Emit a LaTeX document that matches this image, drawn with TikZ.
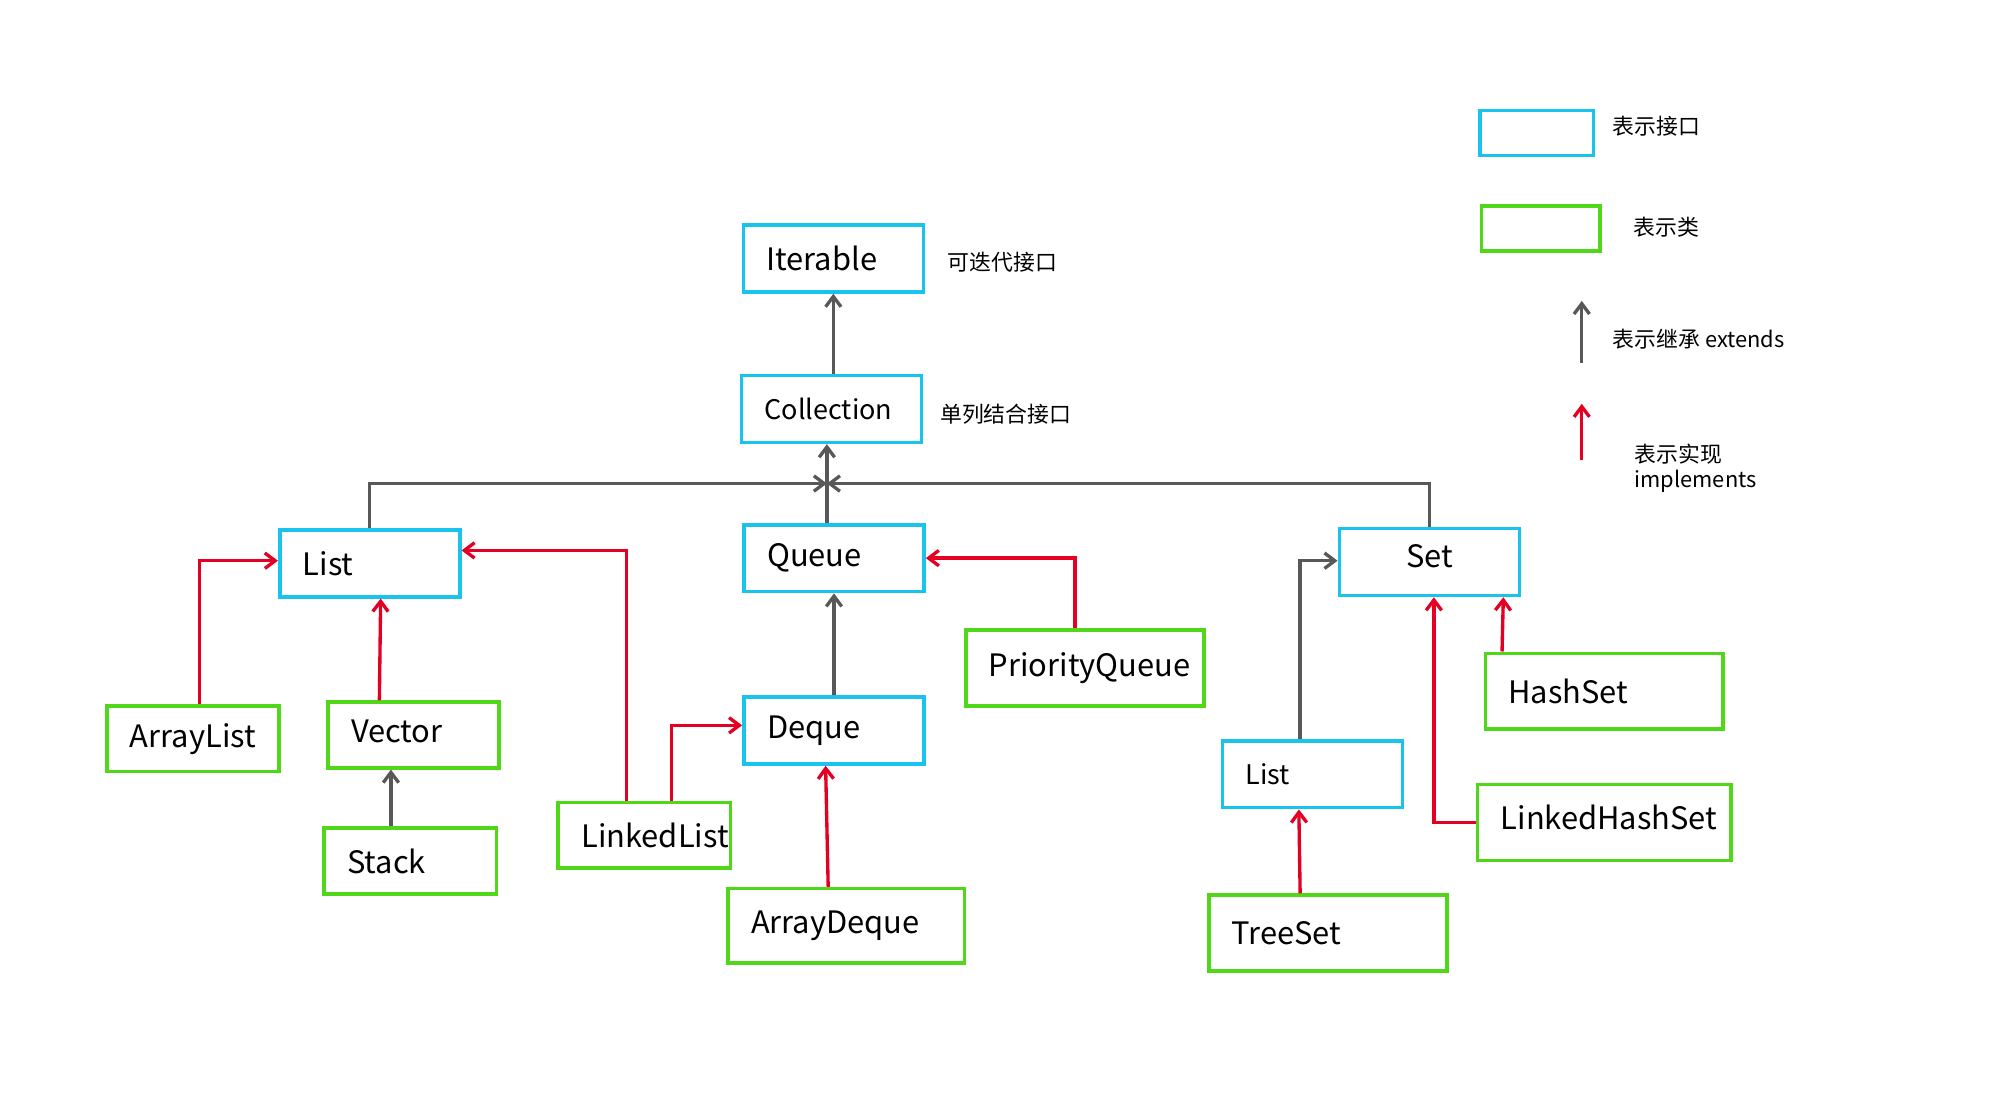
\documentclass[tikz,border=0pt]{standalone}
\usepackage{fontspec}
\setmainfont{Noto Sans CJK SC}
\usetikzlibrary{arrows.meta,calc}
\definecolor{ifcyan}{RGB}{25,195,238}
\definecolor{clgreen}{RGB}{80,215,25}
\definecolor{imred}{RGB}{228,0,35}
\definecolor{exgray}{RGB}{88,88,88}
\begin{document}
\begin{tikzpicture}[x=0.5pt,y=-0.5pt,
	box/.style={draw, line width=1.4pt, inner xsep=9pt, inner ysep=0pt, align=left, font=\fontsize{12}{14}\selectfont},
	iface/.style={box, draw=ifcyan},
	cls/.style={box, draw=clgreen},
	ext/.style={exgray, line width=1.3pt, -{Straight Barb[length=4pt,width=6pt]}},
	impl/.style={imred, line width=1.3pt, -{Straight Barb[length=4pt,width=6pt]}},
	note/.style={anchor=west, font=\fontsize{8.5}{10}\selectfont}]
\useasboundingbox (0,0) rectangle (1563,864);
% interfaces
\node[iface, text width=52pt, minimum height=26pt] (iter) at (648,201) {Iterable};
\node[iface, text width=52pt, minimum height=26pt] (coll) at (646.5,318) {\fontsize{10.5}{12}\selectfont Collection};
\node[iface, text width=52pt, minimum height=26pt] (list) at (287.5,438) {List};
\node[iface, text width=52pt, minimum height=26pt] (queue) at (648.5,434) {Queue};
\node[iface, text width=52pt, minimum height=26pt, align=center] (set) at (1111.5,437) {\raisebox{5pt}{Set}};
\node[iface, text width=52pt, minimum height=26pt] (deque) at (648.5,568) {Deque};
\node[iface, text width=52pt, minimum height=26pt] (list2) at (1020.5,602) {\fontsize{10.5}{12}\selectfont List};
% classes
\node[cls, text width=49pt, minimum height=25.5pt] (alist) at (150,574.5) {ArrayList};
\node[cls, text width=48.5pt, minimum height=25.5pt] (vector) at (321.5,571.5) {\raisebox{3pt}{Vector}};
\node[cls, text width=49pt, minimum height=25.5pt] (stack) at (319,669.5) {Stack};
\node[cls, text width=49pt, minimum height=25.5pt] (llist) at (501,649.5) {LinkedList};
\node[cls, text width=74pt, minimum height=29pt] (adeque) at (658,720) {ArrayDeque};
\node[cls, text width=74.5pt, minimum height=29.5pt] (pqueue) at (843.5,519.5) {PriorityQueue};
\node[cls, text width=74.5pt, minimum height=29.5pt] (hset) at (1247.5,537.5) {HashSet};
\node[cls, text width=80.5pt, minimum height=29.5pt] (lhset) at (1247.5,639.5) {\raisebox{4pt}{LinkedHashSet}};
\node[cls, text width=74.5pt, minimum height=29.5pt] (tset) at (1032.5,725.5) {TreeSet};
% notes
\node[note] (n1) at (730,204) {可迭代接口};
\node[note] (n2) at (724,322) {单列结合接口};
% legend
\node[iface, minimum width=44pt, minimum height=17.5pt] (lgi) at (1195,103.5) {};
\node[cls, minimum width=46pt, minimum height=17.5pt] (lgc) at (1198,177.5) {};
\node[note] (lt1) at (1247,98) {表示接口};
\node[note] (lt2) at (1263,177) {表示类};
\node[note] (lt3) at (1247,264) {表示继承 extends};
\node[note, align=left] (lt4) at (1264,364) {表示实现\\implements};
\coordinate (ga) at (1230,282); \coordinate (gb) at (1230,234);
\coordinate (ra) at (1230,358); \coordinate (rb) at (1230,314);
\draw[ext] (ga) -- (gb);
\draw[impl] (ra) -- (rb);
% extends
\coordinate (jc) at (643,376);
\draw[ext] (coll.north-|iter) -- (iter.south);
\draw[ext] (list.north) |- (jc);
\draw[ext] (set.north) |- (jc);
\draw[ext] (queue.north-|jc) -- (jc) -- (coll.south-|jc);
\draw[ext] (deque.north) -- (queue.south);
\draw[ext] (stack.north-|304,0) -- (vector.south-|304,0);
\draw[ext] (list2.north-|1011,0) |- (set.west|-0,436);
% implements
\draw[impl] (alist.north-|155,0) |- (list.west|-0,436);
\draw[impl] (vector.north-|295,0) -- (list.south-|296,0);
\draw[impl] (llist.north-|487,0) |- (list.east|-0,428);
\draw[impl] (llist.north-|522,0) |- (deque.west|-0,564);
\draw[impl] (pqueue.north-|836,0) |- (queue.east|-0,434);
\draw[impl] (adeque.north-|644,0) -- (deque.south-|642,0);
\draw[impl] (hset.north-|1168,0) -- (set.south-|1169,0);
\draw[impl] (lhset.west) -| (set.south-|1115,0);
\draw[impl] (tset.north-|1011,0) -- (list2.south-|1010,0);
\end{tikzpicture}
\end{document}
